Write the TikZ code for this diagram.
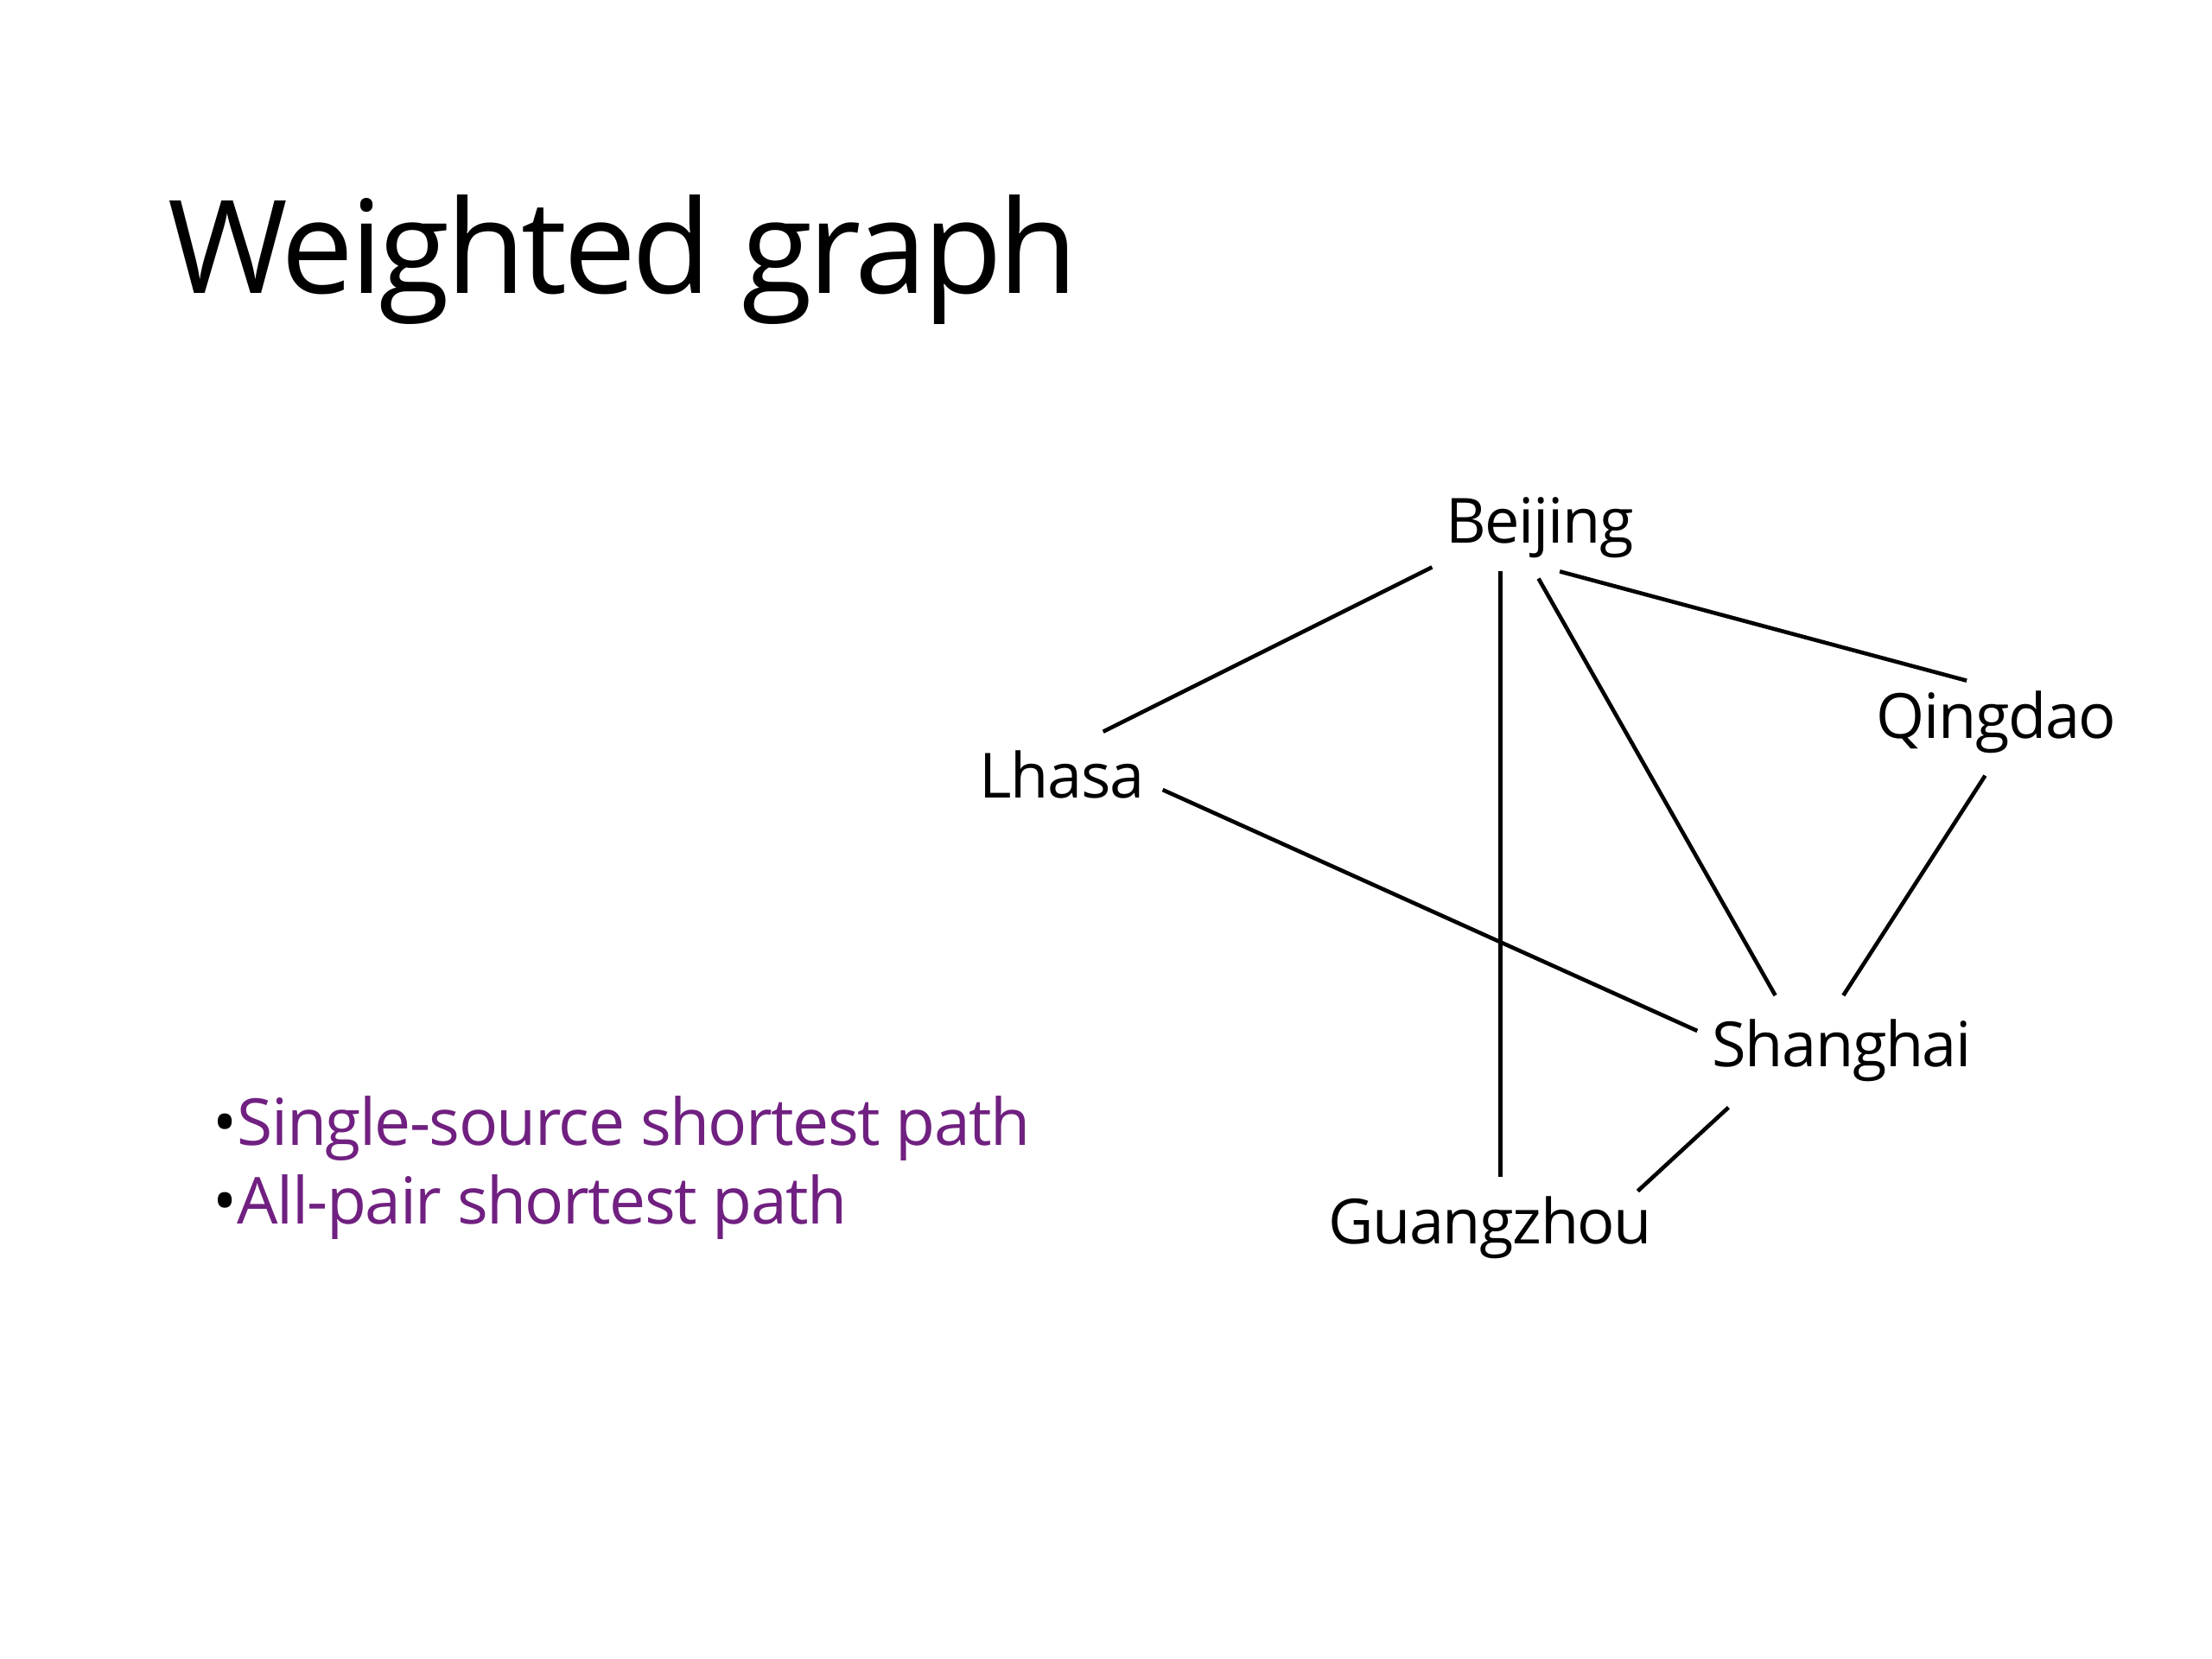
\documentclass[tikz,border=0pt]{standalone}
\usepackage{fontspec}
\setmainfont{Open Sans}
\definecolor{bulletpurple}{RGB}{112,32,128}
\begin{document}
\begin{tikzpicture}[x=0.02cm,y=-0.02cm,
  city/.style={font=\fontsize{25}{30}\selectfont\addfontfeature{LetterSpace=-2}, inner sep=0pt},
  edge/.style={line width=1.6pt, black}]
\useasboundingbox (0,0) rectangle (1560,1170);
\node[anchor=base west, font=\fontsize{52}{60}\selectfont\addfontfeature{LetterSpace=-3}, inner sep=0pt] (title) at (118,207) {Weighted graph};
\node[city] (bj) at (1086,372) {Beijing};
\node[city] (lh) at (749,546) {Lhasa};
\node[city] (qd) at (1408,509) {Qingdao};
\node[city] (sh) at (1299,741) {Shanghai};
\node[city] (gz) at (1051,866) {Guangzhou};
\coordinate (bjA) at (1010,400); \coordinate (lhA) at (778,516);
\coordinate (bjB) at (1058,403); \coordinate (gzB) at (1058,830);
\coordinate (bjC) at (1085,408); \coordinate (shC) at (1252,702);
\coordinate (bjD) at (1100,403); \coordinate (qdD) at (1387,480);
\coordinate (qdE) at (1400,547); \coordinate (shE) at (1300,702);
\coordinate (lhF) at (820,557); \coordinate (shF) at (1197,727);
\coordinate (shG) at (1219,781); \coordinate (gzG) at (1155,840);
\draw[edge] (bjA) -- (lhA);
\draw[edge] (bjB) -- (gzB);
\draw[edge] (bjC) -- (shC);
\draw[edge] (bjD) -- (qdD);
\draw[edge] (qdE) -- (shE);
\draw[edge] (lhF) -- (shF);
\draw[edge] (shG) -- (gzG);
\node[anchor=base west, inner sep=0pt, font=\fontsize{26}{30}\selectfont\addfontfeature{LetterSpace=-2}] (b1) at (150,808) {•\textcolor{bulletpurple}{Single-source shortest path}};
\node[anchor=base west, inner sep=0pt, font=\fontsize{26}{30}\selectfont\addfontfeature{LetterSpace=-2}] (b2) at (150,863) {•\textcolor{bulletpurple}{All-pair shortest path}};
\end{tikzpicture}
\end{document}
